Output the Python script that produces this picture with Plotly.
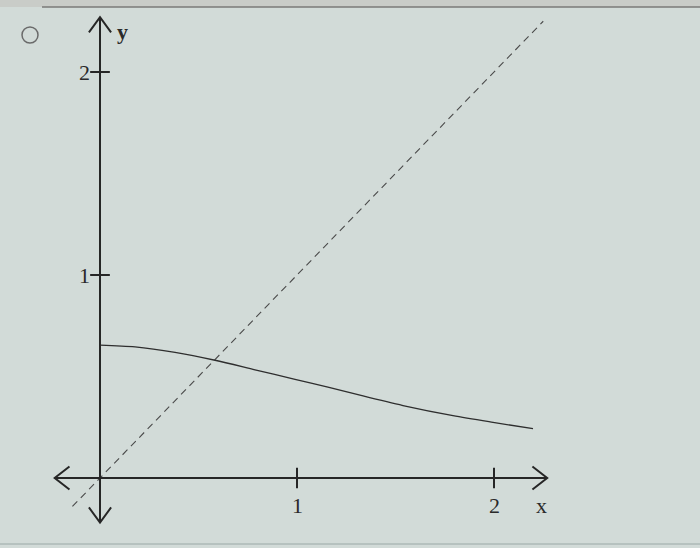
import plotly.graph_objects as go

# Data
curve_x = [0.0, 0.178, 0.381, 0.584, 0.787, 0.990, 1.157, 1.335, 1.538, 1.792, 1.995, 2.198]
curve_y = [0.655, 0.646, 0.619, 0.580, 0.533, 0.486, 0.448, 0.404, 0.357, 0.307, 0.274, 0.243]
diag_x = [-0.14, 2.25]
diag_y = [-0.14, 2.25]
x_ticks = [1, 2]
y_ticks = [1, 2]
x_tick_labels = ["1", "2"]
y_tick_labels = ["1", "2"]

# axis extents (data units)
x_axis_ext = [-0.23, 2.27]
y_axis_ext = [-0.22, 2.27]

ink = "#262626"
fig = go.Figure()

# dashed line y = x
fig.add_trace(go.Scatter(x=diag_x, y=diag_y, mode="lines",
                         line=dict(color="#4a4a4a", width=1.1, dash="7px,5px"),
                         hoverinfo="skip"))
# curve
fig.add_trace(go.Scatter(x=curve_x, y=curve_y, mode="lines",
                         line=dict(color="#2e2e2e", width=1.3, shape="spline", smoothing=0.8),
                         hoverinfo="skip"))

# axes
fig.add_trace(go.Scatter(x=x_axis_ext, y=[0, 0], mode="lines",
                         line=dict(color=ink, width=2), hoverinfo="skip"))
fig.add_trace(go.Scatter(x=[0, 0], y=y_axis_ext, mode="lines",
                         line=dict(color=ink, width=2), hoverinfo="skip"))

# arrow heads (open chevrons)
ax = 0.075
ay = 0.075
def chevron(px, py, dx, dy):
    if dx != 0:
        return [px - dx * ax, px, px - dx * ax], [py + ay * 0.75, py, py - ay * 0.75]
    return [px - ax * 0.75, px, px + ax * 0.75], [py - dy * ay, py, py - dy * ay]

for (px, py, dx, dy) in [(x_axis_ext[1], 0, 1, 0), (x_axis_ext[0], 0, -1, 0),
                         (0, y_axis_ext[1], 0, 1), (0, y_axis_ext[0], 0, -1)]:
    cx, cy = chevron(px, py, dx, dy)
    fig.add_trace(go.Scatter(x=cx, y=cy, mode="lines",
                             line=dict(color=ink, width=2), hoverinfo="skip"))

# ticks
for t in x_ticks:
    fig.add_trace(go.Scatter(x=[t, t], y=[-0.05, 0.05], mode="lines",
                             line=dict(color=ink, width=2), hoverinfo="skip"))
for t in y_ticks:
    fig.add_trace(go.Scatter(x=[-0.05, 0.05], y=[t, t], mode="lines",
                             line=dict(color=ink, width=2), hoverinfo="skip"))

font = dict(family="Liberation Serif, DejaVu Serif, serif", size=22, color="#2a2a2a")
annotations = []
for t, lab in zip(x_ticks, x_tick_labels):
    annotations.append(dict(x=t, y=-0.065, text=lab, showarrow=False,
                            xanchor="center", yanchor="top", font=font))
for t, lab in zip(y_ticks, y_tick_labels):
    annotations.append(dict(x=-0.04, y=t, text=lab, showarrow=False,
                            xanchor="right", yanchor="middle", font=font))
annotations.append(dict(x=2.24, y=-0.065, text="x", showarrow=False,
                        xanchor="center", yanchor="top", font=font))
annotations.append(dict(x=0.075, y=2.2, text="<b>y</b>", showarrow=False,
                        xanchor="left", yanchor="middle", font=font))

x0_px, unit_x = 100, 197.0
y0_px, unit_y = 478, 203.0
W, H = 700, 548

fig.update_layout(
    width=W, height=H,
    margin=dict(l=0, r=0, t=0, b=0),
    showlegend=False,
    paper_bgcolor="#d2dbd8",
    plot_bgcolor="rgba(0,0,0,0)",
    xaxis=dict(range=[-x0_px / unit_x, (W - x0_px) / unit_x], visible=False, fixedrange=True),
    yaxis=dict(range=[-(H - y0_px) / unit_y, y0_px / unit_y], visible=False, fixedrange=True),
    annotations=annotations,
    shapes=[
        dict(type="rect", xref="paper", yref="paper", x0=0, x1=1, y0=1 - 7 / H, y1=1,
             fillcolor="#c9ccc8", line=dict(width=0), layer="below"),
        dict(type="line", xref="paper", yref="paper", x0=0.06, x1=1, y0=1 - 7 / H, y1=1 - 7 / H,
             line=dict(color="#7a7a78", width=1.5)),
        dict(type="circle", xref="paper", yref="paper",
             x0=22 / W, x1=38 / W, y0=1 - 43 / H, y1=1 - 27 / H,
             line=dict(color="#6a6a6a", width=1.5)),
        dict(type="line", xref="paper", yref="paper", x0=0, x1=1, y0=4 / H, y1=4 / H,
             line=dict(color="#9aa8a6", width=1)),
    ],
)

fig.write_html("out.html", config={"displayModeBar": False},
               post_script="document.body.style.margin='0';document.body.style.overflow='hidden';")
